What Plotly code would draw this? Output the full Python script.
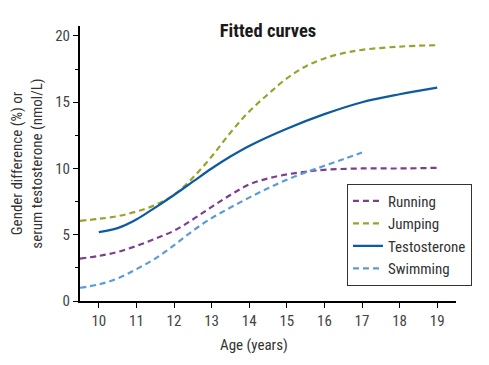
import plotly.graph_objects as go

# ---- data ----
running_age = [9.5, 10, 10.5, 11, 11.5, 12, 12.5, 13, 13.5, 14, 14.5, 15, 15.5, 16, 17, 18, 19]
running_val = [3.2, 3.4, 3.7, 4.15, 4.7, 5.3, 6.15, 7.1, 8.0, 8.8, 9.25, 9.55, 9.75, 9.9, 10.0, 10.0, 10.05]

jumping_age = [9.5, 10, 10.5, 11, 11.5, 12, 12.5, 13, 13.5, 14, 14.5, 15, 15.5, 16, 16.5, 17, 18, 19]
jumping_val = [6.05, 6.2, 6.4, 6.75, 7.25, 8.0, 9.3, 10.9, 12.7, 14.3, 15.6, 16.8, 17.7, 18.3, 18.7, 18.95, 19.2, 19.3]

testo_age = [10, 10.5, 11, 11.5, 12, 12.5, 13, 13.5, 14, 15, 16, 17, 18, 19]
testo_val = [5.2, 5.5, 6.15, 7.05, 8.0, 9.0, 10.0, 10.9, 11.7, 13.0, 14.1, 15.0, 15.6, 16.1]

swim_age = [9.5, 10, 10.5, 11, 11.5, 12, 12.5, 13, 13.5, 14, 14.5, 15, 15.5, 16, 16.5, 17]
swim_val = [1.0, 1.25, 1.7, 2.4, 3.2, 4.2, 5.3, 6.25, 7.05, 7.8, 8.5, 9.15, 9.7, 10.2, 10.7, 11.2]

x_ticks = [10, 11, 12, 13, 14, 15, 16, 17, 18, 19]
y_ticks = [0, 5, 10, 15, 20]

FONT = "Liberation Sans Narrow, Arial Narrow, Roboto Condensed, Liberation Sans, Arial, sans-serif"
DASH = "6px,4px"

# page body has an 8px default margin; figure sized to fill the rest of the 489x365 window
W, H = 481, 357
L, T = 72, 18
PW, PH = 376, 275

fig = go.Figure()
fig.add_trace(go.Scatter(x=running_age, y=running_val, name="Running", mode="lines",
                         line=dict(color="#7b3f8e", width=2.2, dash=DASH, shape="spline")))
fig.add_trace(go.Scatter(x=jumping_age, y=jumping_val, name="Jumping", mode="lines",
                         line=dict(color="#9aa22c", width=2.2, dash=DASH, shape="spline")))
fig.add_trace(go.Scatter(x=testo_age, y=testo_val, name="Testosterone", mode="lines",
                         line=dict(color="#0d5aa0", width=2.2, shape="spline")))
fig.add_trace(go.Scatter(x=swim_age, y=swim_val, name="Swimming", mode="lines",
                         line=dict(color="#5b9bd8", width=2.2, dash=DASH, shape="spline")))

fig.update_layout(
    width=W, height=H,
    margin=dict(l=L, r=W - L - PW, t=T, b=H - T - PH, autoexpand=False),
    paper_bgcolor="white", plot_bgcolor="white",
    font=dict(family=FONT, size=15, color="#444444"),
    title=dict(text="<b>Fitted curves</b>", xref="paper", x=0.5, xanchor="center",
               y=1 - 23 / H, yanchor="middle",
               font=dict(family=FONT, size=18.5, color="#1a1a1a")),
    showlegend=True,
    legend=dict(x=0.71, y=0.427, xanchor="left", yanchor="top",
                bgcolor="white", bordercolor="#333333", borderwidth=1,
                font=dict(family=FONT, size=15, color="#333333"),
                itemwidth=30, tracegroupgap=0),
    xaxis=dict(range=[9.5, 19.5], tickvals=x_ticks, ticktext=[str(v) for v in x_ticks],
               showgrid=False, zeroline=False, showline=True, linecolor="black", linewidth=2,
               ticks="outside", ticklen=5, tickwidth=1, tickcolor="black", automargin=False),
    yaxis=dict(range=[0, 20.75], tickvals=y_ticks, ticktext=[str(v) for v in y_ticks],
               showgrid=False, zeroline=False, showline=True, linecolor="black", linewidth=2,
               ticks="outside", ticklen=5, tickwidth=1, tickcolor="black", automargin=False,
               minor=dict(dtick=2.5, tick0=0, ticks="outside", ticklen=3, tickcolor="black", showgrid=False),
               title=dict(text="Gender difference (%) or<br>serum testosterone (nmol/L)", standoff=12,
                          font=dict(size=15, color="#333333"))),
    annotations=[dict(text="Age (years)", xref="paper", yref="paper",
                      x=(254 - 80) / PW, y=-(345 - 301) / PH, xanchor="center", yanchor="middle",
                      showarrow=False, font=dict(family=FONT, size=15, color="#333333"))],
)

fig.write_html("out.html")
